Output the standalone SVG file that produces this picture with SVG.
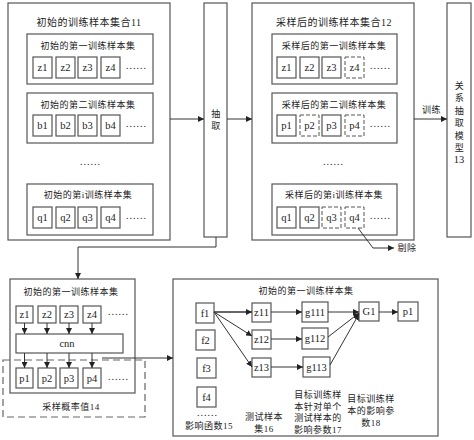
<svg xmlns="http://www.w3.org/2000/svg" width="474" height="440" viewBox="0 0 474 440">
<defs>
<marker id="ah" viewBox="0 0 6 6" refX="6" refY="3" markerWidth="6" markerHeight="6" markerUnits="userSpaceOnUse" orient="auto"><path d="M0,0 L6,3 L0,6 z" fill="#222"/></marker>
</defs>
<style>
.box{fill:#fff;stroke:#555;stroke-width:1.2}
.cell{fill:#fff;stroke:#555;stroke-width:1.2}
.dcell{fill:#fff;stroke:#555;stroke-width:1;stroke-dasharray:4,2}
.dbox{fill:none;stroke:#666;stroke-width:1.2;stroke-dasharray:7,4}
.t{font-family:"Liberation Serif","Noto Sans CJK SC",serif;font-size:9px;fill:#222;text-anchor:middle;letter-spacing:0.5px}
.tl{font-family:"Liberation Serif","Noto Sans CJK SC",serif;font-size:10px;fill:#222;text-anchor:middle;letter-spacing:0.5px}
.c{font-family:"Liberation Serif",serif;font-size:10.5px;fill:#222;text-anchor:middle}
.arr{fill:none;stroke:#333;stroke-width:1;marker-end:url(#ah)}
</style>

<g id="set11">
<rect class="box" x="8" y="3" width="162" height="237"/>
<text class="tl" x="89" y="26">初始的训练样本集合11</text>
<g id="set11-1">
<rect class="box" x="27" y="34" width="126" height="50"/>
<text class="t" x="88" y="49">初始的第一训练样本集</text>
<rect class="cell" x="33" y="57" width="19" height="21"/><text class="c" x="42.5" y="71">z1</text>
<rect class="cell" x="56" y="57" width="19" height="21"/><text class="c" x="65.5" y="71">z2</text>
<rect class="cell" x="78" y="57" width="19" height="21"/><text class="c" x="87.5" y="71">z3</text>
<rect class="cell" x="101" y="57" width="19" height="21"/><text class="c" x="110.5" y="71">z4</text>
<text class="c" x="136" y="69">……</text>
</g>
<g id="set11-2">
<rect class="box" x="27" y="93" width="126" height="50"/>
<text class="t" x="88" y="108">初始的第二训练样本集</text>
<rect class="cell" x="33" y="115" width="19" height="21"/><text class="c" x="42.5" y="129">b1</text>
<rect class="cell" x="56" y="115" width="19" height="21"/><text class="c" x="65.5" y="129">b2</text>
<rect class="cell" x="78" y="115" width="19" height="21"/><text class="c" x="87.5" y="129">b3</text>
<rect class="cell" x="101" y="115" width="19" height="21"/><text class="c" x="110.5" y="129">b4</text>
<text class="c" x="136" y="127">……</text>
</g>
<text class="c" x="90" y="165">……</text>
<g id="set11-i">
<rect class="box" x="27" y="184" width="126" height="51"/>
<text class="t" x="88" y="198">初始的第i训练样本集</text>
<rect class="cell" x="33" y="207" width="19" height="21"/><text class="c" x="42.5" y="221">q1</text>
<rect class="cell" x="56" y="207" width="19" height="21"/><text class="c" x="65.5" y="221">q2</text>
<rect class="cell" x="78" y="207" width="19" height="21"/><text class="c" x="87.5" y="221">q3</text>
<rect class="cell" x="101" y="207" width="19" height="21"/><text class="c" x="110.5" y="221">q4</text>
<text class="c" x="136" y="219">……</text>
</g>
</g>

<g id="extract">
<rect class="box" x="204" y="3" width="23" height="234"/>
<text class="t" x="216" y="117">抽</text>
<text class="t" x="216" y="129">取</text>
</g>

<g id="set12">
<rect class="box" x="252" y="3" width="162" height="237"/>
<text class="tl" x="334" y="26">采样后的训练样本集合12</text>
<g id="set12-1">
<rect class="box" x="272" y="34" width="125" height="50"/>
<text class="t" x="334" y="49">采样后的第一训练样本集</text>
<rect class="cell" x="277" y="57" width="19" height="21"/><text class="c" x="286.5" y="71">z1</text>
<rect class="cell" x="300" y="57" width="19" height="21"/><text class="c" x="309.5" y="71">z2</text>
<rect class="cell" x="322" y="57" width="19" height="21"/><text class="c" x="331.5" y="71">z3</text>
<rect class="dcell" x="345" y="57" width="19" height="21"/><text class="c" x="354.5" y="71">z4</text>
<text class="c" x="380" y="69">……</text>
</g>
<g id="set12-2">
<rect class="box" x="272" y="93" width="125" height="50"/>
<text class="t" x="334" y="108">采样后的第二训练样本集</text>
<rect class="cell" x="277" y="115" width="19" height="21"/><text class="c" x="286.5" y="129">p1</text>
<rect class="dcell" x="300" y="115" width="19" height="21"/><text class="c" x="309.5" y="129">p2</text>
<rect class="cell" x="322" y="115" width="19" height="21"/><text class="c" x="331.5" y="129">p3</text>
<rect class="dcell" x="345" y="115" width="19" height="21"/><text class="c" x="354.5" y="129">p4</text>
<text class="c" x="380" y="127">……</text>
</g>
<text class="c" x="333" y="165">……</text>
<g id="set12-i">
<rect class="box" x="272" y="184" width="125" height="51"/>
<text class="t" x="334" y="198">采样后的第i训练样本集</text>
<rect class="cell" x="277" y="207" width="19" height="21"/><text class="c" x="286.5" y="221">q1</text>
<rect class="cell" x="300" y="207" width="19" height="21"/><text class="c" x="309.5" y="221">q2</text>
<rect class="dcell" x="322" y="207" width="19" height="21"/><text class="c" x="331.5" y="221">q3</text>
<rect class="dcell" x="345" y="207" width="19" height="21"/><text class="c" x="354.5" y="221">q4</text>
<text class="c" x="380" y="219">……</text>
</g>
</g>

<g id="model">
<rect class="box" x="447" y="3" width="24" height="234"/>
<text class="t" x="459.5" y="89">关</text>
<text class="t" x="459.5" y="101">系</text>
<text class="t" x="459.5" y="114">抽</text>
<text class="t" x="459.5" y="126">取</text>
<text class="t" x="459.5" y="139">模</text>
<text class="t" x="459.5" y="151">型</text>
<text class="c" x="459" y="163">13</text>
</g>

<g id="train-label"><text class="t" x="431.5" y="113">训练</text></g>
<g id="remove-label"><text class="t" x="407" y="251">剔除</text></g>

<g id="set-first">
<rect class="box" x="10" y="279" width="125" height="114"/>
<text class="t" x="71" y="295">初始的第一训练样本集</text>
<rect class="cell" x="16" y="306" width="17" height="17"/><text class="c" x="24.5" y="318">z1</text>
<rect class="cell" x="38" y="306" width="18" height="17"/><text class="c" x="47" y="318">z2</text>
<rect class="cell" x="60" y="306" width="18" height="17"/><text class="c" x="69" y="318">z3</text>
<rect class="cell" x="83" y="306" width="18" height="17"/><text class="c" x="92" y="318">z4</text>
<text class="c" x="118" y="315">……</text>
<rect class="cell" x="16" y="334" width="107" height="19"/><text class="c" x="67" y="347">cnn</text>
<rect class="cell" x="16" y="368" width="17" height="20"/><text class="c" x="24.5" y="382">p1</text>
<rect class="cell" x="38" y="368" width="18" height="20"/><text class="c" x="47" y="382">p2</text>
<rect class="cell" x="60" y="368" width="18" height="20"/><text class="c" x="69" y="382">p3</text>
<rect class="cell" x="83" y="368" width="18" height="20"/><text class="c" x="92" y="382">p4</text>
<text class="c" x="118" y="380">……</text>
</g>
<g id="prob14">
<rect class="dbox" x="3" y="360" width="142" height="57"/>
<text class="t" x="71" y="410">采样概率值14</text>
</g>

<g id="influence">
<rect class="box" x="173" y="279" width="265" height="157"/>
<text class="t" x="306" y="294">初始的第一训练样本集</text>
<rect class="cell" x="196" y="303" width="18" height="20"/><text class="c" x="205" y="317">f1</text>
<rect class="cell" x="196" y="330" width="19" height="20"/><text class="c" x="205.5" y="344">f2</text>
<rect class="cell" x="197" y="358" width="19" height="20"/><text class="c" x="206.5" y="372">f3</text>
<rect class="cell" x="197" y="387" width="19" height="20"/><text class="c" x="206.5" y="401">f4</text>
<text class="c" x="207" y="416">……</text>
<text class="t" x="209" y="429">影响函数15</text>
<rect class="cell" x="252" y="303" width="19" height="19"/><text class="c" x="261.5" y="316">z11</text>
<rect class="cell" x="252" y="330" width="19" height="19"/><text class="c" x="261.5" y="343">z12</text>
<rect class="cell" x="252" y="358" width="19" height="19"/><text class="c" x="261.5" y="371">z13</text>
<rect class="cell" x="302" y="302" width="26" height="20"/><text class="c" x="315" y="316">g111</text>
<rect class="cell" x="302" y="328" width="26" height="21"/><text class="c" x="315" y="342">g112</text>
<rect class="cell" x="303" y="357" width="27" height="20"/><text class="c" x="316.5" y="371">g113</text>
<rect class="cell" x="359" y="302" width="20" height="19"/><text class="c" x="369" y="315">G1</text>
<rect class="cell" x="398" y="302" width="20" height="19"/><text class="c" x="408" y="315">p1</text>
<text class="t" x="264" y="420">测试样本</text>
<text class="t" x="264" y="432">集16</text>
<text class="t" x="318" y="398">目标训练样</text>
<text class="t" x="318" y="410">本针对单个</text>
<text class="t" x="318" y="421">测试样本的</text>
<text class="t" x="318" y="433">影响参数17</text>
<text class="t" x="371" y="402">目标训练样</text>
<text class="t" x="371" y="414">本的影响参</text>
<text class="t" x="371" y="426">数18</text>
</g>

<g id="connectors">
<path class="arr" d="M170,119 H204"/>
<path class="arr" d="M227,119 H252"/>
<path class="arr" d="M414,119 H447"/>
<path class="arr" d="M358,228 L373,248 H394"/>
<path class="arr" d="M216,237 V247 H78 V279"/>
<path class="arr" d="M24.5,323 V334"/>
<path class="arr" d="M47,323 V334"/>
<path class="arr" d="M69,323 V334"/>
<path class="arr" d="M92,323 V334"/>
<path class="arr" d="M24.5,353 V368"/>
<path class="arr" d="M47,353 V368"/>
<path class="arr" d="M69,353 V368"/>
<path class="arr" d="M92,353 V368"/>
<path class="arr" d="M102,358 H173"/>
<path class="arr" d="M214,312 H252" style="stroke-width:1.6"/>
<path class="arr" d="M214,312 L252,336"/>
<path class="arr" d="M214,312 L252,367"/>
<path class="arr" d="M271,312 H302"/>
<path class="arr" d="M271,339 H302"/>
<path class="arr" d="M271,367 H303"/>
<path class="arr" d="M328,312 H359"/>
<path class="arr" d="M328,337 L359,313"/>
<path class="arr" d="M330,365 L359,314"/>
<path class="arr" d="M379,312 H398"/>
</g>
</svg>
